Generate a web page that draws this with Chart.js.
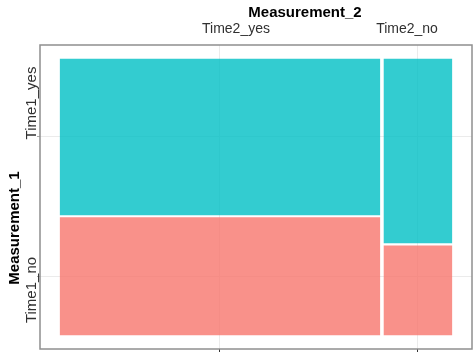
<!DOCTYPE html>
<html><head><meta charset="utf-8">
<script src="https://cdn.jsdelivr.net/npm/chart.js@4/dist/chart.umd.min.js"></script>
<style>html,body{margin:0;padding:0;background:#fff;}#wrap{width:474px;height:358px;position:relative;}</style>
</head><body><div id="wrap"><canvas id="c"></canvas></div>
<script>
// ---- data ----
const xCategories = ['Time2_yes', 'Time2_no'];      // Measurement_2 levels (columns)
const yCategories = ['Time1_no', 'Time1_yes'];      // Measurement_1 levels (bottom -> top)
const countsTime1No  = [110, 18];                   // per column
const countsTime1Yes = [146, 37];                   // per column
const xTitle = 'Measurement_2';
const yTitle = 'Measurement_1';
const xTickLabels = ['Time2_yes', 'Time2_no'];
const yTickLabels = ['Time1_no', 'Time1_yes'];

// ---- styles ----
const fillColors = { Time1_yes: 'rgba(0,191,196,0.8)', Time1_no: 'rgba(248,118,109,0.8)' };
const GAP = 0.008;
const FONT = '"Liberation Sans", Arial, sans-serif';

// ---- build mosaic rectangles from counts ----
const colTotals = xCategories.map((_, i) => countsTime1No[i] + countsTime1Yes[i]);
const grand = colTotals.reduce((a, b) => a + b, 0);
const rects = [];
const colCenters = [];
const rowCenters = [];
let xcur = 0;
xCategories.forEach((cat, i) => {
  const w = colTotals[i] / grand;
  const x0 = xcur, x1 = xcur + w;
  colCenters.push((x0 + x1) / 2);
  const hNo = countsTime1No[i] / colTotals[i];
  rects.push({ x0, x1, y0: 0, y1: hNo, key: 'Time1_no' });
  rects.push({ x0, x1, y0: hNo + GAP, y1: 1 + GAP, key: 'Time1_yes' });
  if (i === 0) { rowCenters.push(hNo / 2); rowCenters.push((hNo + GAP + 1 + GAP) / 2); }
  xcur = x1 + GAP;
});
const xSpan = 1 + GAP * (xCategories.length - 1);
const ySpan = 1 + GAP;

const datasets = rects.map(r => ({
  label: r.key,
  data: [{ x: r.x0, y: r.y1 }, { x: r.x1, y: r.y1 }],
  fill: { value: r.y0 },
  backgroundColor: fillColors[r.key],
  borderColor: 'rgba(0,0,0,0)',
  borderWidth: 0,
  pointRadius: 0,
  pointHoverRadius: 0,
  tension: 0
}));

// ---- panel border + text plugin ----
const decor = {
  id: 'decor',
  afterDatasetsDraw(chart) {
    const { ctx, chartArea: a } = chart;
    ctx.save();
    ctx.strokeStyle = '#8f8f8f';
    ctx.lineWidth = 1.5;
    ctx.strokeRect(a.left, a.top, a.right - a.left, a.bottom - a.top);
    ctx.restore();
  },
  afterDraw(chart) {
    const { ctx } = chart;
    ctx.save();
    ctx.textAlign = 'center';
    ctx.textBaseline = 'alphabetic';
    // top title
    ctx.fillStyle = '#000';
    ctx.font = 'bold 15px ' + FONT;
    ctx.fillText(xTitle, 305, 17);
    // top tick labels
    ctx.fillStyle = '#303030';
    ctx.font = '14px ' + FONT;
    const xLabelPx = [236, 407];
    xTickLabels.forEach((t, i) => ctx.fillText(t, xLabelPx[i], 33));
    // left title
    ctx.save();
    ctx.translate(19, 228);
    ctx.rotate(-Math.PI / 2);
    ctx.fillStyle = '#000';
    ctx.font = 'bold 15px ' + FONT;
    ctx.fillText(yTitle, 0, 0);
    ctx.restore();
    // left tick labels
    const yLabelPx = [290, 103];
    yTickLabels.forEach((t, i) => {
      ctx.save();
      ctx.translate(35.5, yLabelPx[i]);
      ctx.rotate(-Math.PI / 2);
      ctx.fillStyle = '#303030';
      ctx.font = '15px ' + FONT;
      ctx.fillText(t, 0, 0);
      ctx.restore();
    });
    ctx.restore();
  }
};

new Chart(document.getElementById('c'), {
  type: 'line',
  data: { datasets },
  options: {
    responsive: true,
    maintainAspectRatio: false,
    animation: false,
    devicePixelRatio: 1,
    layout: { padding: { top: 45, right: 2, left: 0, bottom: 0 } },
    plugins: { legend: { display: false }, tooltip: { enabled: false } },
    scales: {
      x: {
        type: 'linear',
        position: 'bottom',
        min: -0.05 * xSpan,
        max: 1.05 * xSpan,
        afterBuildTicks: s => { s.ticks = colCenters.map(v => ({ value: v })); },
        ticks: { display: false },
        grid: { color: '#EBEBEB', lineWidth: 1, drawTicks: true, tickLength: 3, tickColor: '#333', tickWidth: 1 },
        border: { display: false },
        afterFit: s => { s.height = 9; }
      },
      y: {
        type: 'linear',
        position: 'left',
        min: -0.05 * ySpan,
        max: 1.05 * ySpan,
        afterBuildTicks: s => { s.ticks = rowCenters.map(v => ({ value: v })); },
        ticks: { display: false },
        grid: { color: '#EBEBEB', lineWidth: 1, drawTicks: true, tickLength: 3, tickColor: '#aaa', tickWidth: 1 },
        border: { display: false },
        afterFit: s => { s.width = 40; }
      }
    }
  },
  plugins: [decor]
});
</script>
</body></html>
